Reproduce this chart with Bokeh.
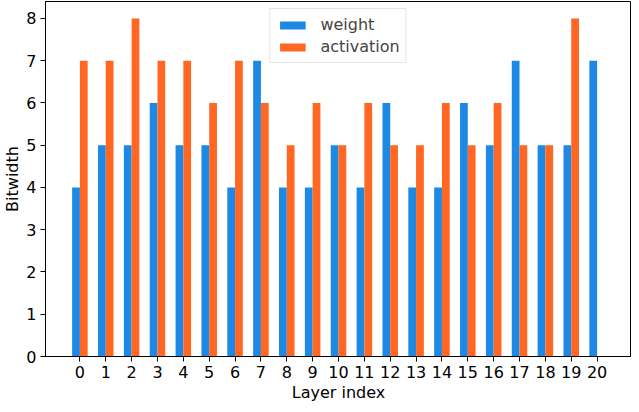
from bokeh.plotting import figure
from bokeh.models import Range1d, FixedTicker, ColumnDataSource, Legend, LegendItem
from bokeh.transform import dodge
from bokeh.embed import file_html
from bokeh.resources import INLINE

layers = list(range(21))
weight = [4, 5, 5, 6, 5, 5, 4, 7, 4, 4, 5, 4, 6, 4, 4, 6, 5, 7, 5, 5, 7]
activation = [7, 7, 8, 7, 7, 6, 7, 6, 5, 6, 5, 6, 5, 5, 6, 5, 6, 5, 5, 8, 0]
x_ticks = list(range(21))
y_ticks = list(range(9))

src = ColumnDataSource(dict(layer=layers, weight=weight, activation=activation))

FONT = "DejaVu Sans"
p = figure(width=631, height=404, output_backend="svg", toolbar_location=None,
           x_range=Range1d(-1.33, 21.33), y_range=Range1d(0, 8.4),
           min_border_left=0, min_border_right=0, min_border_top=1, min_border_bottom=2)

r_w = p.vbar(x=dodge('layer', -0.15, range=p.x_range), top='weight', width=0.3, bottom=0,
             source=src, fill_color="#1e88e5", line_color=None)
r_a = p.vbar(x=dodge('layer', 0.15, range=p.x_range), top='activation', width=0.3, bottom=0,
             source=src, fill_color="#ff6722", line_color=None)

p.xgrid.visible = False
p.ygrid.visible = False
p.outline_line_color = "black"
p.outline_line_width = 1

for ax in (p.xaxis[0], p.yaxis[0]):
    ax.axis_line_color = "black"
    ax.major_tick_line_color = "black"
    ax.major_tick_in = 0
    ax.major_tick_out = 5
    ax.minor_tick_line_color = None
    ax.major_label_text_font = FONT
    ax.major_label_text_font_size = "16px"
    ax.major_label_text_color = "black"
    ax.axis_label_text_font = FONT
    ax.axis_label_text_font_size = "16px"
    ax.axis_label_text_font_style = "normal"
    ax.axis_label_text_color = "black"

p.xaxis.ticker = FixedTicker(ticks=x_ticks)
p.yaxis.ticker = FixedTicker(ticks=y_ticks)
p.xaxis.axis_label = "Layer index"
p.yaxis.axis_label = "Bitwidth"
p.xaxis.major_label_standoff = 4
p.xaxis.axis_label_standoff = 2
p.yaxis.major_label_standoff = 4
p.yaxis.axis_label_standoff = 1

legend = Legend(items=[LegendItem(label="weight", renderers=[r_w]),
                       LegendItem(label="activation", renderers=[r_a])],
                location="top_center")
legend.label_text_font = FONT
legend.label_text_font_size = "16px"
legend.label_height = 18
legend.border_line_color = "#cccccc"
legend.border_line_width = 1
legend.glyph_width = 32
legend.glyph_height = 10
legend.spacing = 3
legend.padding = 6
legend.margin = 7
legend.label_standoff = 12
legend.background_fill_alpha = 0.8
p.add_layout(legend)

open("out.html", "w").write(file_html(p, INLINE))
